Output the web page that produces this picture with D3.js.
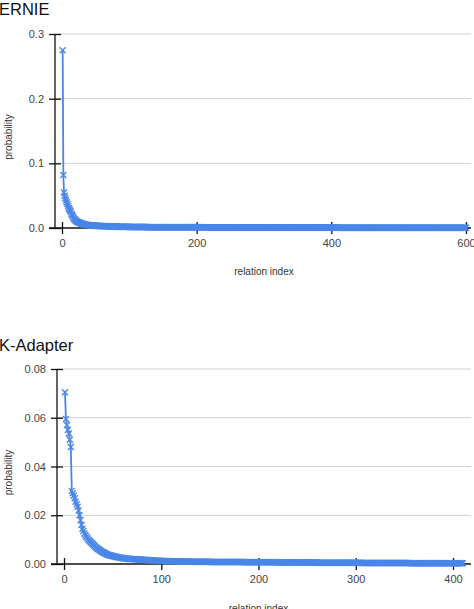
<!DOCTYPE html>
<html><head><meta charset="utf-8">
<script src="https://cdn.jsdelivr.net/npm/d3@7"></script>
<style>
html,body{margin:0;padding:0;background:#fff;}
svg{display:block;font-family:"Liberation Sans",Arial,sans-serif;}
</style></head>
<body>
<script>
// ---------- data ----------
const ernieTitle = "ERNIE";
const kadapterTitle = "K-Adapter";
const xAxisTitle = "relation index";
const yAxisTitle = "probability";

const ernieXTicks = [0, 200, 400, 600];
const ernieYTicks = [0, 0.1, 0.2, 0.3];
const kadapterXTicks = [0, 100, 200, 300, 400];
const kadapterYTicks = [0, 0.02, 0.04, 0.06, 0.08];

// ERNIE: probability of relation index 1..600
const ernieValues = [
0.275,0.082,0.055,0.050,0.046,0.043,0.040,0.037,0.034,0.031,0.029,0.027,0.025,0.022,0.020,0.018,0.016,0.014,0.013,0.012,
0.011,0.010,0.0095,0.009,0.0085,0.008,0.0076,0.0072,0.0068,0.0065,0.0062,0.0059,0.0056,0.0054,0.0052,0.0050,0.0048,0.0046,0.0045,0.0043,
0.0042,0.0041,0.0040,0.0039,0.0038,0.0037,0.0037,0.0036,0.0035,0.0035,0.0034,0.0033,0.0033,0.0032,0.0032,0.0031,0.0031,0.0030,0.0030,0.0029,
0.0029,0.0028,0.0028,0.0027,0.0027,0.0027,0.0026,0.0026,0.0025,0.0025,0.0025,0.0024,0.0024,0.0024,0.0023,0.0023,0.0023,0.0022,0.0022,0.0022,
0.0022,0.0021,0.0021,0.0021,0.0021,0.0020,0.0020,0.0020,0.0020,0.0019,0.0019,0.0019,0.0019,0.0019,0.0018,0.0018,0.0018,0.0018,0.0018,0.0017,
0.0017,0.0017,0.0017,0.0017,0.0017,0.0016,0.0016,0.0016,0.0016,0.0016,0.0016,0.0015,0.0015,0.0015,0.0015,0.0015,0.0015,0.0015,0.0014,0.0014,
0.0014,0.0014,0.0014,0.0014,0.0014,0.0014,0.0013,0.0013,0.0013,0.0013,0.0013,0.0013,0.0013,0.0013,0.0013,0.0012,0.0012,0.0012,0.0012,0.0012,
0.0012,0.0012,0.0012,0.0012,0.0012,0.0012,0.0011,0.0011,0.0011,0.0011,0.0011,0.0011,0.0011,0.0011,0.0011,0.0011,0.0011,0.0011,0.0010,0.0010,
0.0010,0.0010,0.0010,0.0010,0.0010,0.0010,0.0010,0.0010,0.0010,0.0010,0.0010,0.0010,0.0010,0.0010,0.0010,0.0010,0.0010,0.0010,0.0010,0.0010,
0.0010,0.0010,0.0010,0.0010,0.0010,0.0010,0.0010,0.0010,0.0010,0.0010,0.0010,0.0010,0.0010,0.0010,0.0010,0.0010,0.0010,0.0010,0.0010,0.0010,
0.0010,0.0010,0.0010,0.0010,0.0010,0.0010,0.0010,0.0010,0.0010,0.0010,0.0009,0.0009,0.0009,0.0009,0.0009,0.0009,0.0009,0.0009,0.0009,0.0009,
0.0009,0.0009,0.0009,0.0009,0.0009,0.0009,0.0009,0.0009,0.0009,0.0009,0.0009,0.0009,0.0009,0.0009,0.0009,0.0009,0.0009,0.0009,0.0009,0.0009,
0.0009,0.0009,0.0009,0.0009,0.0009,0.0009,0.0009,0.0009,0.0009,0.0009,0.0008,0.0008,0.0008,0.0008,0.0008,0.0008,0.0008,0.0008,0.0008,0.0008,
0.0008,0.0008,0.0008,0.0008,0.0008,0.0008,0.0008,0.0008,0.0008,0.0008,0.0008,0.0008,0.0008,0.0008,0.0008,0.0008,0.0008,0.0008,0.0008,0.0008,
0.0008,0.0008,0.0008,0.0008,0.0008,0.0008,0.0008,0.0008,0.0008,0.0008,0.0008,0.0008,0.0008,0.0008,0.0008,0.0007,0.0007,0.0007,0.0007,0.0007,
0.0007,0.0007,0.0007,0.0007,0.0007,0.0007,0.0007,0.0007,0.0007,0.0007,0.0007,0.0007,0.0007,0.0007,0.0007,0.0007,0.0007,0.0007,0.0007,0.0007,
0.0007,0.0007,0.0007,0.0007,0.0007,0.0007,0.0007,0.0007,0.0007,0.0007,0.0007,0.0007,0.0007,0.0007,0.0007,0.0007,0.0007,0.0007,0.0007,0.0007,
0.0007,0.0007,0.0007,0.0007,0.0007,0.0007,0.0007,0.0007,0.0007,0.0007,0.0006,0.0006,0.0006,0.0006,0.0006,0.0006,0.0006,0.0006,0.0006,0.0006,
0.0006,0.0006,0.0006,0.0006,0.0006,0.0006,0.0006,0.0006,0.0006,0.0006,0.0006,0.0006,0.0006,0.0006,0.0006,0.0006,0.0006,0.0006,0.0006,0.0006,
0.0006,0.0006,0.0006,0.0006,0.0006,0.0006,0.0006,0.0006,0.0006,0.0006,0.0006,0.0006,0.0006,0.0006,0.0006,0.0006,0.0006,0.0006,0.0006,0.0006,
0.0006,0.0006,0.0006,0.0006,0.0006,0.0006,0.0006,0.0006,0.0006,0.0006,0.0005,0.0005,0.0005,0.0005,0.0005,0.0005,0.0005,0.0005,0.0005,0.0005,
0.0005,0.0005,0.0005,0.0005,0.0005,0.0005,0.0005,0.0005,0.0005,0.0005,0.0005,0.0005,0.0005,0.0005,0.0005,0.0005,0.0005,0.0005,0.0005,0.0005,
0.0005,0.0005,0.0005,0.0005,0.0005,0.0005,0.0005,0.0005,0.0005,0.0005,0.0005,0.0005,0.0005,0.0005,0.0005,0.0005,0.0005,0.0005,0.0005,0.0005,
0.0005,0.0005,0.0005,0.0005,0.0005,0.0005,0.0005,0.0005,0.0005,0.0005,0.0004,0.0004,0.0004,0.0004,0.0004,0.0004,0.0004,0.0004,0.0004,0.0004,
0.0004,0.0004,0.0004,0.0004,0.0004,0.0004,0.0004,0.0004,0.0004,0.0004,0.0004,0.0004,0.0004,0.0004,0.0004,0.0004,0.0004,0.0004,0.0004,0.0004,
0.0004,0.0004,0.0004,0.0004,0.0004,0.0004,0.0004,0.0004,0.0004,0.0004,0.0004,0.0004,0.0004,0.0004,0.0004,0.0004,0.0004,0.0004,0.0004,0.0004,
0.0004,0.0004,0.0004,0.0004,0.0004,0.0004,0.0004,0.0004,0.0004,0.0004,0.0003,0.0003,0.0003,0.0003,0.0003,0.0003,0.0003,0.0003,0.0003,0.0003,
0.0003,0.0003,0.0003,0.0003,0.0003,0.0003,0.0003,0.0003,0.0003,0.0003,0.0003,0.0003,0.0003,0.0003,0.0003,0.0003,0.0003,0.0003,0.0003,0.0003,
0.0003,0.0003,0.0003,0.0003,0.0003,0.0003,0.0003,0.0003,0.0003,0.0003,0.0003,0.0003,0.0003,0.0003,0.0003,0.0003,0.0003,0.0003,0.0003,0.0003,
0.0003,0.0003,0.0003,0.0003,0.0003,0.0003,0.0003,0.0003,0.0003,0.0003,0.0003,0.0003,0.0003,0.0003,0.0003,0.0003,0.0003,0.0003,0.0003,0.0003
];

// K-Adapter: probability of relation index 1..410
const kadapterValues = [
0.0705,0.0595,0.057,0.055,0.0535,0.051,0.048,0.030,0.029,0.028,0.027,0.0255,0.0245,0.0235,0.022,0.020,0.018,0.016,0.0145,0.0135,
0.0125,0.0118,0.0112,0.0106,0.0100,0.0096,0.0092,0.0088,0.0084,0.0080,0.0076,0.0072,0.0068,0.0065,0.0062,0.0059,0.0056,0.0053,0.0050,0.0048,
0.0046,0.0044,0.0042,0.0040,0.0038,0.0037,0.0036,0.0035,0.0034,0.0033,0.0032,0.0031,0.0030,0.0029,0.0028,0.0028,0.0027,0.0026,0.0026,0.0025,
0.0024,0.0024,0.0023,0.0023,0.0022,0.0022,0.0021,0.0021,0.0021,0.0020,0.0020,0.0020,0.0019,0.0019,0.0019,0.0018,0.0018,0.0018,0.0018,0.0017,
0.0017,0.0017,0.0016,0.0016,0.0016,0.0016,0.0015,0.0015,0.0015,0.0015,0.0014,0.0014,0.0014,0.0014,0.0013,0.0013,0.0013,0.0013,0.0012,0.0012,
0.0012,0.0012,0.0012,0.0012,0.0012,0.0011,0.0011,0.0011,0.0011,0.0011,0.0011,0.0011,0.0011,0.0011,0.0011,0.0010,0.0010,0.0010,0.0010,0.0010,
0.0010,0.0010,0.0010,0.0010,0.0010,0.0010,0.0010,0.0010,0.0010,0.0010,0.0009,0.0009,0.0009,0.0009,0.0009,0.0009,0.0009,0.0009,0.0009,0.0009,
0.0009,0.0009,0.0009,0.0009,0.0009,0.0009,0.0009,0.0009,0.0009,0.0009,0.0008,0.0008,0.0008,0.0008,0.0008,0.0008,0.0008,0.0008,0.0008,0.0008,
0.0008,0.0008,0.0008,0.0008,0.0008,0.0008,0.0008,0.0008,0.0008,0.0008,0.0008,0.0008,0.0008,0.0008,0.0008,0.0008,0.0008,0.0008,0.0008,0.0008,
0.0008,0.0008,0.0008,0.0008,0.0008,0.0007,0.0007,0.0007,0.0007,0.0007,0.0007,0.0007,0.0007,0.0007,0.0007,0.0007,0.0007,0.0007,0.0007,0.0007,
0.0007,0.0007,0.0007,0.0007,0.0007,0.0007,0.0007,0.0007,0.0007,0.0007,0.0007,0.0007,0.0007,0.0007,0.0007,0.0007,0.0007,0.0007,0.0007,0.0007,
0.0006,0.0006,0.0006,0.0006,0.0006,0.0006,0.0006,0.0006,0.0006,0.0006,0.0006,0.0006,0.0006,0.0006,0.0006,0.0006,0.0006,0.0006,0.0006,0.0006,
0.0006,0.0006,0.0006,0.0006,0.0006,0.0006,0.0006,0.0006,0.0006,0.0006,0.0006,0.0006,0.0006,0.0006,0.0006,0.0006,0.0006,0.0006,0.0006,0.0006,
0.0005,0.0005,0.0005,0.0005,0.0005,0.0005,0.0005,0.0005,0.0005,0.0005,0.0005,0.0005,0.0005,0.0005,0.0005,0.0005,0.0005,0.0005,0.0005,0.0005,
0.0005,0.0005,0.0005,0.0005,0.0005,0.0005,0.0005,0.0005,0.0005,0.0005,0.0005,0.0005,0.0005,0.0005,0.0005,0.0005,0.0005,0.0005,0.0005,0.0005,
0.0005,0.0005,0.0005,0.0005,0.0005,0.0004,0.0004,0.0004,0.0004,0.0004,0.0004,0.0004,0.0004,0.0004,0.0004,0.0004,0.0004,0.0004,0.0004,0.0004,
0.0004,0.0004,0.0004,0.0004,0.0004,0.0004,0.0004,0.0004,0.0004,0.0004,0.0004,0.0004,0.0004,0.0004,0.0004,0.0004,0.0004,0.0004,0.0004,0.0004,
0.0004,0.0004,0.0004,0.0004,0.0004,0.0004,0.0004,0.0004,0.0004,0.0004,0.0004,0.0004,0.0004,0.0004,0.0004,0.0003,0.0003,0.0003,0.0003,0.0003,
0.0003,0.0003,0.0003,0.0003,0.0003,0.0003,0.0003,0.0003,0.0003,0.0003,0.0003,0.0003,0.0003,0.0003,0.0003,0.0003,0.0003,0.0003,0.0003,0.0003,
0.0003,0.0003,0.0003,0.0003,0.0003,0.0003,0.0003,0.0003,0.0003,0.0003,0.0003,0.0003,0.0003,0.0003,0.0003,0.0003,0.0003,0.0003,0.0003,0.0003,
0.0003,0.0003,0.0003,0.0003,0.0003,0.0003,0.0003,0.0003,0.0003,0.0003
];

// ---------- drawing ----------
const W = 474, H = 609;
const lineColor = "#4a86e8";
const svg = d3.select("body").append("svg").attr("width", W).attr("height", H);

function drawPanel(cfg) {
  const g = svg.append("g");
  const x = d3.scaleLinear().domain(cfg.xDomain).range(cfg.xRange);
  const y = d3.scaleLinear().domain(cfg.yDomain).range(cfg.yRange);
  const axisX = cfg.axisX, baseY = y(0);

  // title
  g.append("text").attr("x", cfg.titleX).attr("y", cfg.titleY)
    .attr("font-size", 16.5).attr("fill", "#111").text(cfg.title);

  // gridlines
  g.selectAll(".grid").data(cfg.yTicks.filter(d => d > 0)).enter().append("line")
    .attr("x1", axisX).attr("x2", cfg.gridEnd)
    .attr("y1", d => y(d)).attr("y2", d => y(d))
    .attr("stroke", "#d0d0d0").attr("stroke-width", 1);

  // y axis
  const yAxis = d3.axisLeft(y).tickValues(cfg.yTicks).tickFormat(d3.format(cfg.yFormat))
    .tickSizeInner(6).tickSizeOuter(0).tickPadding(5);
  const ya = g.append("g").attr("transform", `translate(${axisX},0)`).call(yAxis);
  ya.select(".domain").remove();
  ya.selectAll(".tick line").attr("x2", -6).attr("x1", 6).attr("stroke", "#111").attr("stroke-width", 1.3);
  ya.selectAll(".tick text").attr("font-size", 11).attr("fill", "#444")
    .attr("font-family", "'Liberation Sans',Arial,sans-serif").attr("x", -11);
  g.append("line").attr("x1", axisX).attr("x2", axisX)
    .attr("y1", y(cfg.yDomain[1])).attr("y2", baseY)
    .attr("stroke", "#111").attr("stroke-width", 1.3);

  // x axis
  const xAxis = d3.axisBottom(x).tickValues(cfg.xTicks).tickFormat(d3.format("d"))
    .tickSizeInner(6).tickSizeOuter(0).tickPadding(5);
  const xa = g.append("g").attr("transform", `translate(0,${baseY})`).call(xAxis);
  xa.select(".domain").remove();
  xa.selectAll(".tick line").attr("y1", -6).attr("y2", 6).attr("stroke", "#111").attr("stroke-width", 1.3);
  xa.selectAll(".tick text").attr("font-size", 11).attr("fill", "#444")
    .attr("font-family", "'Liberation Sans',Arial,sans-serif").attr("y", 11);
  g.append("line").attr("x1", axisX - 6).attr("x2", cfg.gridEnd)
    .attr("y1", baseY).attr("y2", baseY)
    .attr("stroke", "#111").attr("stroke-width", 1.3);

  // axis titles
  g.append("text").attr("x", (cfg.xRange[0] + cfg.xRange[1]) / 2).attr("y", cfg.xTitleY)
    .attr("text-anchor", "middle").attr("font-size", 10).attr("fill", "#333").text(xAxisTitle);
  g.append("text").attr("transform", `translate(${cfg.yTitleX},${(y(cfg.yDomain[1]) + baseY) / 2 + 6}) rotate(-90)`)
    .attr("text-anchor", "middle").attr("font-size", 10).attr("fill", "#333").text(yAxisTitle);

  // data
  const pts = cfg.values.map((v, i) => [i + 1, v]);
  const plot = g.append("g");
  plot.append("path").datum(pts)
    .attr("d", d3.line().x(d => x(d[0])).y(d => y(d[1])))
    .attr("fill", "none").attr("stroke", lineColor).attr("stroke-width", 1.8);
  const s = 3;
  plot.selectAll(".mk").data(pts).enter().append("path")
    .attr("transform", d => `translate(${x(d[0])},${y(d[1])})`)
    .attr("d", `M${-s},${-s}L${s},${s}M${-s},${s}L${s},${-s}`)
    .attr("stroke", lineColor).attr("stroke-width", 1.4).attr("fill", "none");
}

drawPanel({
  title: ernieTitle, titleX: -1, titleY: 15,
  values: ernieValues,
  xDomain: [0, 600], xRange: [62, 466],
  yDomain: [0, 0.3], yRange: [228, 34],
  xTicks: ernieXTicks, yTicks: ernieYTicks, yFormat: ".1f",
  axisX: 55, gridEnd: 471, xTitleY: 275, yTitleX: 12
});

drawPanel({
  title: kadapterTitle, titleX: -1, titleY: 351,
  values: kadapterValues,
  xDomain: [0, 400], xRange: [64, 453],
  yDomain: [0, 0.08], yRange: [564, 369],
  xTicks: kadapterXTicks, yTicks: kadapterYTicks, yFormat: ".2f",
  axisX: 57, gridEnd: 471, xTitleY: 612, yTitleX: 12
});
</script>
</body></html>
